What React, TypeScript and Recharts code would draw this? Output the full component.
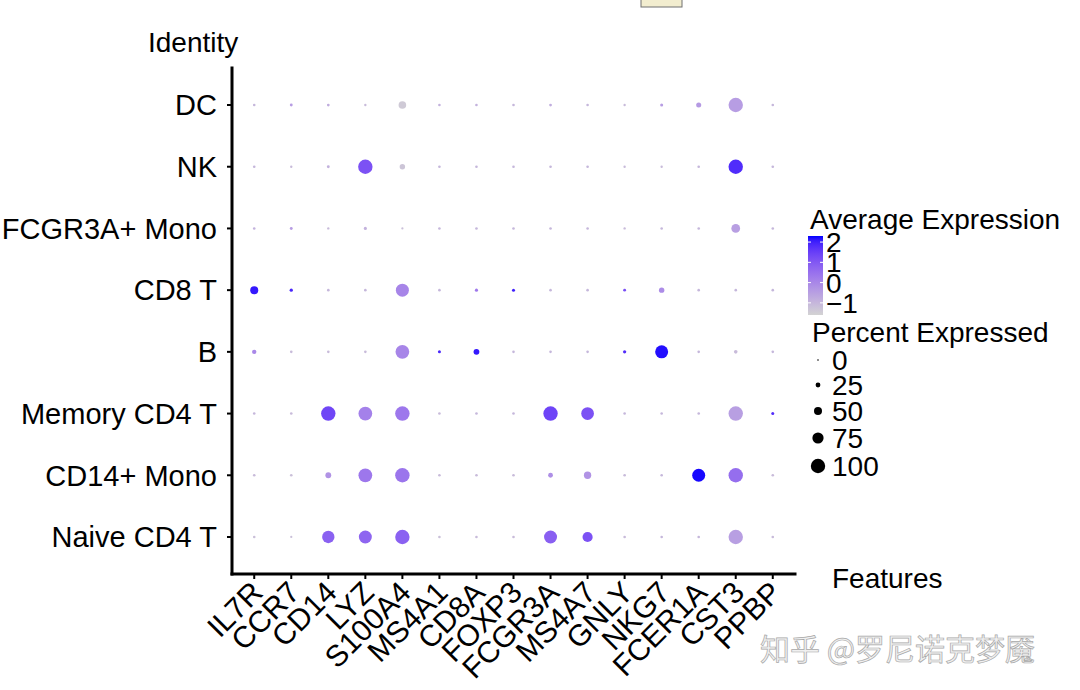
import React from 'react';
import { ScatterChart, Scatter, XAxis, YAxis, ZAxis } from 'recharts';

const FONT = '"Liberation Sans", Arial, Helvetica, sans-serif';

const features = [
  'IL7R', 'CCR7', 'CD14', 'LYZ', 'S100A4', 'MS4A1', 'CD8A', 'FOXP3',
  'FCGR3A', 'MS4A7', 'GNLY', 'NKG7', 'FCER1A', 'CST3', 'PPBP',
];

// listed bottom to top, as they sit on the y axis
const identities = [
  'Naive CD4 T', 'CD14+ Mono', 'Memory CD4 T', 'B', 'CD8 T', 'FCGR3A+ Mono', 'NK', 'DC',
];

// percent of cells expressing each feature (rows follow identities, columns follow features)
const pctExpressed = [
  [8, 5, 84, 89, 100, 8, 8, 8, 89, 67, 8, 8, 8, 100, 8], // Naive CD4 T
  [8, 8, 33, 95, 100, 8, 8, 8, 25, 45, 8, 8, 89, 100, 8], // CD14+ Mono
  [8, 8, 100, 95, 100, 8, 8, 8, 100, 87, 8, 8, 8, 100, 11], // Memory CD4 T
  [22, 8, 8, 8, 95, 11, 33, 8, 8, 8, 13, 89, 8, 16, 8], // B
  [50, 13, 8, 8, 89, 8, 12, 11, 8, 8, 10, 30, 8, 8, 8], // CD8 T
  [8, 10, 6, 12, 5, 8, 8, 8, 8, 8, 6, 8, 8, 56, 8], // FCGR3A+ Mono
  [8, 6, 10, 100, 30, 8, 8, 8, 8, 8, 6, 6, 8, 100, 8], // NK
  [8, 10, 9, 6, 47, 8, 8, 8, 9, 8, 6, 11, 27, 100, 8], // DC
];

// scaled average expression, same layout as pctExpressed
const avgExpression = [
  [-1.2, -1.2, 0.82, 0.74, 0.82, -1.2, -1.1, -1.1, 0.85, 1.13, -1.1, -1.0, -1.0, -0.5, -1.1], // Naive CD4 T
  [-1.1, -1.2, -0.25, 0.35, 0.4, -1.1, -1.1, -1.1, -0.15, -0.25, -1.1, -1.0, 2.25, 0.55, -1.1], // CD14+ Mono
  [-1.0, -1.1, 1.36, 0.15, 0.35, -1.1, -1.0, -1.0, 1.4, 1.13, -1.0, -1.0, -1.0, -0.5, 1.8], // Memory CD4 T
  [0.0, -1.1, -1.1, -1.1, 0.05, 1.9, 2.1, -1.0, -1.0, -1.0, 1.8, 2.2, -1.0, -1.1, -1.0], // B
  [2.1, 1.9, -1.0, -1.0, 0.05, -1.0, 0.3, 2.0, -1.0, -1.0, 1.2, -0.1, -1.0, -1.0, -1.0], // CD8 T
  [-0.9, -0.45, -1.1, -0.9, -1.2, -1.0, -1.0, -1.0, -1.0, -1.0, -1.1, -1.0, -1.0, -0.5, -1.0], // FCGR3A+ Mono
  [-1.0, -1.1, -0.9, 1.13, -1.3, -1.0, -1.0, -1.0, -1.0, -1.0, -1.1, -1.1, -1.0, 1.83, -1.0], // NK
  [-1.0, -0.45, -0.8, -1.1, -1.4, -0.9, -0.9, -1.0, -0.8, -1.0, -1.1, -0.45, -0.4, -0.45, -1.0], // DC
];

const colourTicks = [2, 1, 0, -1];
const sizeBreaks = [0, 25, 50, 75, 100];

const colourDomain = [-1.6, 2.3];
const sizeRange = [0.8, 7.2]; // dot radius in px for 0% .. 100%
const LOW = '#D3D3D3';
const HIGH = '#0000FF';

// ---- lightgrey -> blue ramp, interpolated in CIE Lab ----
const toLinear = (c: number) => {
  const v = c / 255;
  return v <= 0.04045 ? v / 12.92 : Math.pow((v + 0.055) / 1.055, 2.4);
};
const toByte = (c: number) => {
  const v = c <= 0.0031308 ? 12.92 * c : 1.055 * Math.pow(c, 1 / 2.4) - 0.055;
  return Math.round(Math.min(1, Math.max(0, v)) * 255);
};
const hexToLab = (hex: string) => {
  const n = parseInt(hex.slice(1), 16);
  const R = toLinear((n >> 16) & 255), G = toLinear((n >> 8) & 255), B = toLinear(n & 255);
  const X = (0.4124 * R + 0.3576 * G + 0.1805 * B) / 0.95047;
  const Y = 0.2126 * R + 0.7152 * G + 0.0722 * B;
  const Z = (0.0193 * R + 0.1192 * G + 0.9505 * B) / 1.08883;
  const f = (t: number) => (t > 0.008856 ? Math.cbrt(t) : 7.787 * t + 16 / 116);
  return [116 * f(Y) - 16, 500 * (f(X) - f(Y)), 200 * (f(Y) - f(Z))];
};
const labToHex = ([L, a, b]: number[]) => {
  const fy = (L + 16) / 116, fx = fy + a / 500, fz = fy - b / 200;
  const inv = (t: number) => (t * t * t > 0.008856 ? t * t * t : (t - 16 / 116) / 7.787);
  const X = inv(fx) * 0.95047, Y = inv(fy), Z = inv(fz) * 1.08883;
  const R = 3.2406 * X - 1.5372 * Y - 0.4986 * Z;
  const G = -0.9689 * X + 1.8758 * Y + 0.0415 * Z;
  const B = 0.0557 * X - 0.204 * Y + 1.057 * Z;
  return '#' + [R, G, B].map(toByte).map((v) => v.toString(16).padStart(2, '0')).join('');
};
const labLow = hexToLab(LOW);
const labHigh = hexToLab(HIGH);

const expressionColour = (v: number) => {
  const t = Math.min(1, Math.max(0, (v - colourDomain[0]) / (colourDomain[1] - colourDomain[0])));
  return labToHex(labLow.map((c, i) => c + (labHigh[i] - c) * t));
};

const dotRadius = (pct: number) => sizeRange[0] + ((sizeRange[1] - sizeRange[0]) * pct) / 100;

const dots = identities.flatMap((_, r) =>
  features.map((__, c) => ({
    x: c + 1,
    y: r + 1,
    pct: pctExpressed[r][c],
    avg: avgExpression[r][c],
  }))
);

// size comes from the ZAxis scale (range holds radii)
const ExpressionDot = (props: any) => {
  const { cx, cy, size, payload } = props;
  const r = typeof size === 'number' ? size : dotRadius(payload.pct);
  return <circle cx={cx} cy={cy} r={r} fill={expressionColour(payload.avg)} />;
};

const FeatureTick = (props: any) => {
  const { x, y, payload } = props;
  const ax = x - 5;
  const ay = y - 2;
  return (
    <text
      x={ax}
      y={ay}
      dy="0.72em"
      transform={`rotate(-45 ${ax} ${ay})`}
      textAnchor="end"
      fontSize={30}
      fontFamily={FONT}
      fill="#000"
    >
      {features[payload.value - 1]}
    </text>
  );
};

const Legends = () => {
  const barX = 808, barY = 236, barW = 15, barH = 79;
  const valueY = (v: number) => barY + ((colourDomain[1] - v) / (colourDomain[1] - colourDomain[0])) * barH;
  const stops = Array.from({ length: 21 }, (_, i) => i / 20);
  const keyY = [360, 385, 411, 438, 466];
  return (
    <svg
      width={1080}
      height={690}
      style={{ position: 'absolute', left: 0, top: 0, pointerEvents: 'none' }}
      fontFamily={FONT}
    >
      <defs>
        <linearGradient id="avgExprRamp" x1="0" y1="1" x2="0" y2="0">
          {stops.map((s) => (
            <stop
              key={s}
              offset={s}
              stopColor={expressionColour(colourDomain[0] + s * (colourDomain[1] - colourDomain[0]))}
            />
          ))}
        </linearGradient>
      </defs>

      <text x={148} y={52} fontSize={28} fill="#000">Identity</text>
      <text x={832} y={588} fontSize={28} fill="#000">Features</text>

      <text x={810} y={229} fontSize={28} fill="#000">Average Expression</text>
      <rect x={barX} y={barY} width={barW} height={barH} fill="url(#avgExprRamp)" />
      {colourTicks.map((v) => (
        <g key={v}>
          <line x1={barX} x2={barX + 3} y1={valueY(v)} y2={valueY(v)} stroke="#fff" strokeWidth={1} />
          <line x1={barX + barW - 3} x2={barX + barW} y1={valueY(v)} y2={valueY(v)} stroke="#fff" strokeWidth={1} />
          <text x={826} y={valueY(v)} dy="0.36em" fontSize={28} fill="#000">
            {v < 0 ? `\u2212${Math.abs(v)}` : v}
          </text>
        </g>
      ))}

      <text x={812} y={342} fontSize={28} fill="#000">Percent Expressed</text>
      {sizeBreaks.map((p, i) => (
        <g key={p}>
          <circle cx={818} cy={keyY[i]} r={dotRadius(p)} fill="#000" />
          <text x={832} y={keyY[i]} dy="0.36em" fontSize={28} fill="#000">{p}</text>
        </g>
      ))}

      <text
        x={760}
        y={660}
        fontSize={30}
        fontFamily='"Noto Sans CJK SC", sans-serif'
        fill="#f0f0f0"
        stroke="#a8a8a8"
        strokeWidth={0.7}
      >
        知乎 @罗尼诺克梦魇
      </text>

      <rect x={641} y={-2} width={41} height={9} fill="#f2edcf" stroke="#707070" strokeWidth={1} />
    </svg>
  );
};

export default function App() {
  return (
    <div style={{ position: 'fixed', left: 0, top: 0, width: 1080, height: 690, background: '#fff' }}>
      <ScatterChart width={1080} height={690} margin={{ top: 68, right: 285, bottom: 0, left: 0 }}>
        <XAxis
          type="number"
          dataKey="x"
          domain={[0.4, 15.6]}
          ticks={features.map((_, i) => i + 1)}
          interval={0}
          height={116}
          axisLine={{ stroke: '#000', strokeWidth: 3, strokeLinecap: 'square' }}
          tickLine={{ stroke: '#000', strokeWidth: 2 }}
          tickSize={5}
          tick={<FeatureTick />}
        />
        <YAxis
          type="number"
          dataKey="y"
          domain={[0.4, 8.6]}
          ticks={identities.map((_, i) => i + 1)}
          interval={0}
          width={232}
          axisLine={{ stroke: '#000', strokeWidth: 3, strokeLinecap: 'square' }}
          tickLine={{ stroke: '#000', strokeWidth: 2 }}
          tickSize={5}
          tickMargin={10}
          tick={{ fill: '#000', fontSize: 29, fontFamily: FONT }}
          tickFormatter={(v: number) => identities[v - 1]}
        />
        <ZAxis type="number" dataKey="pct" domain={[0, 100]} range={sizeRange} />
        <Scatter data={dots} shape={<ExpressionDot />} isAnimationActive={false} />
      </ScatterChart>
      <Legends />
    </div>
  );
}
